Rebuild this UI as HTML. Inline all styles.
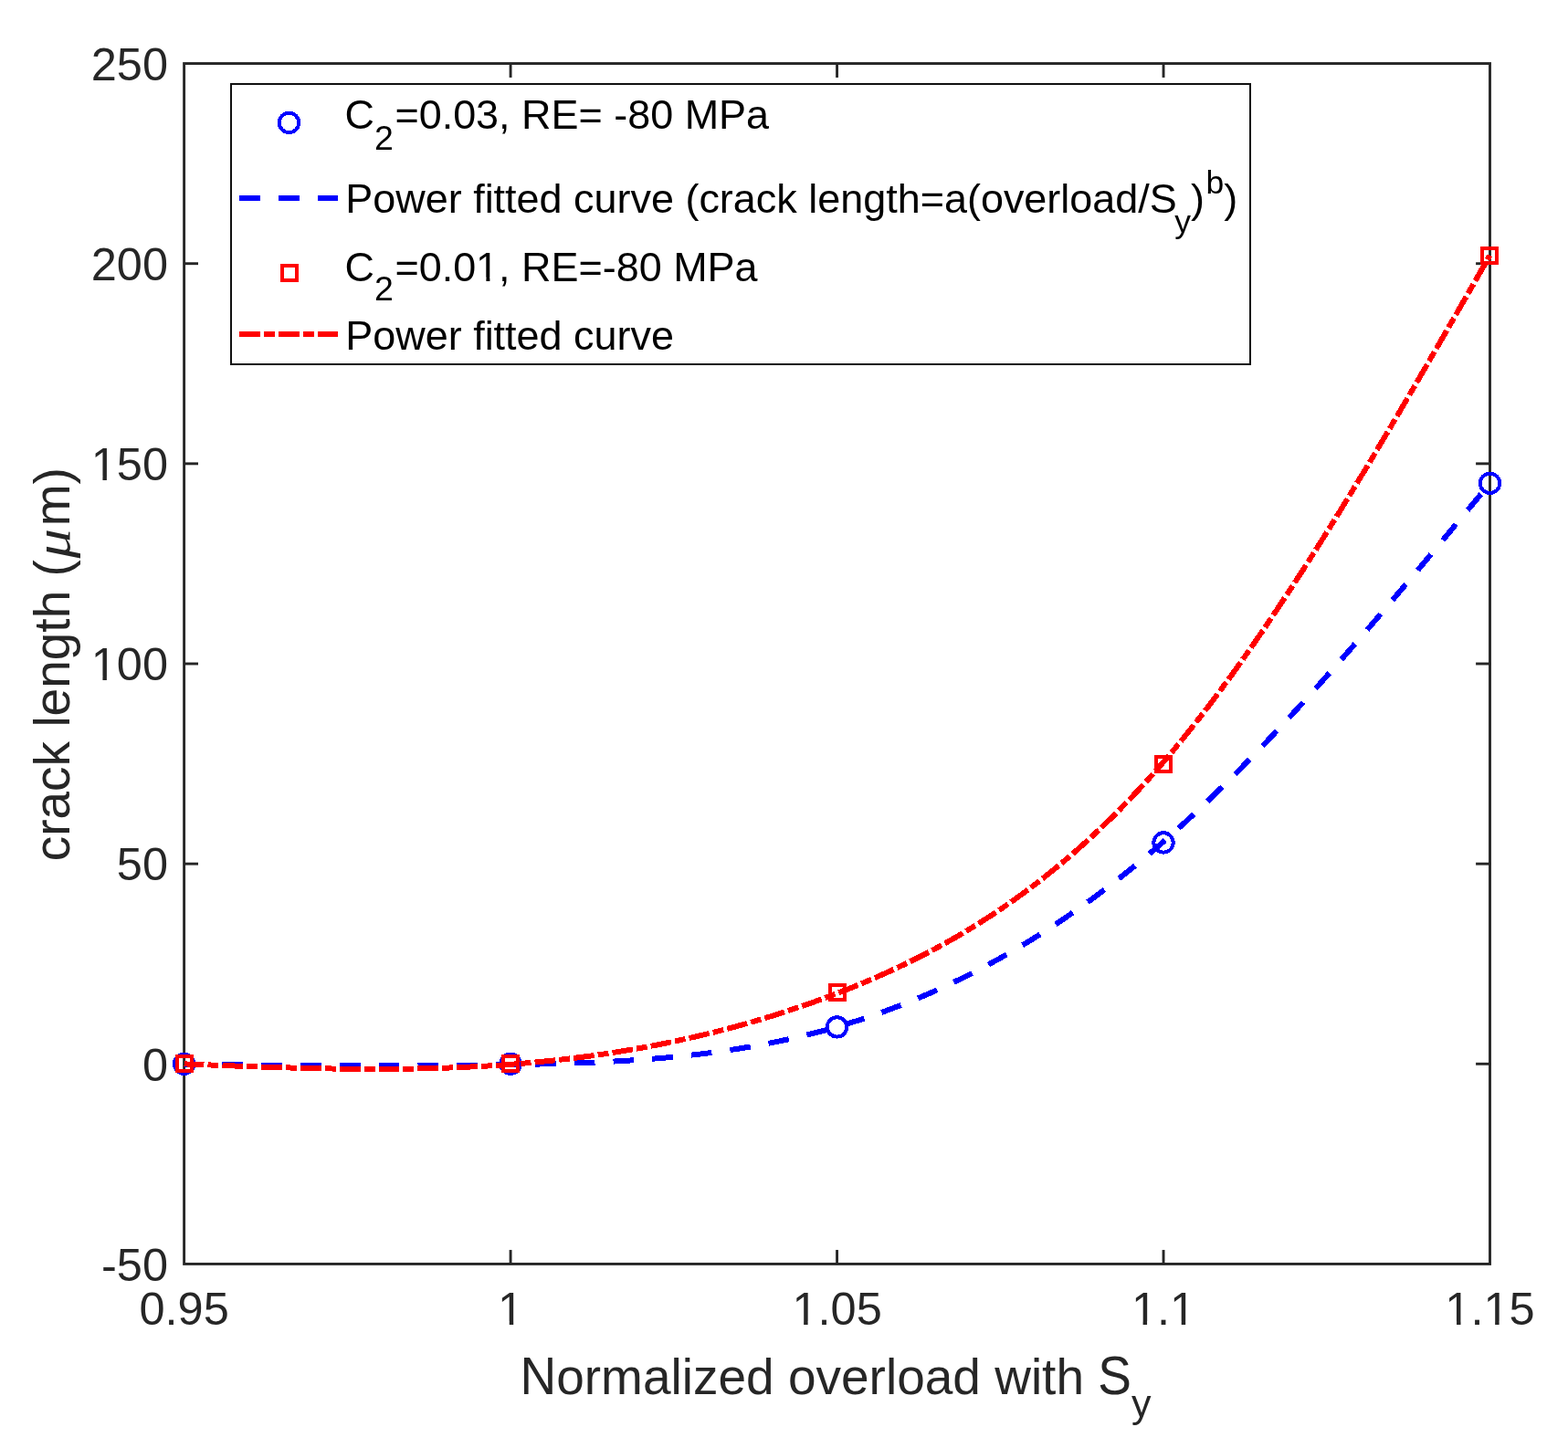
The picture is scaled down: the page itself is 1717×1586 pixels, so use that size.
<!DOCTYPE html>
<html><head><meta charset="utf-8"><title>crack length vs normalized overload</title>
<style>html,body{margin:0;padding:0;background:#ffffff;}svg{display:block}</style></head>
<body>
<svg width="1717" height="1586" viewBox="0 0 1717 1586">
<defs><clipPath id="nofoot" clipPathUnits="userSpaceOnUse"><path clip-rule="evenodd" d="M0,0H1717V1586H0Z M102.38,740.73H112.43V746.20H102.38Z M116.90,740.73H126.55V746.20H116.90Z M102.38,521.63H112.43V527.10H102.38Z M116.90,521.63H126.55V527.10H116.90Z M547.70,1446.93H557.75V1452.40H547.70Z M562.22,1446.93H571.87V1452.40H562.22Z M870.10,1446.93H880.15V1452.40H870.10Z M884.61,1446.93H894.27V1452.40H884.61Z M1241.55,1446.93H1251.60V1452.40H1241.55Z M1256.06,1446.93H1265.72V1452.40H1256.06Z M1283.65,1446.93H1293.71V1452.40H1283.65Z M1298.17,1446.93H1307.83V1452.40H1298.17Z M1585.00,1446.93H1595.05V1452.40H1585.00Z M1599.51,1446.93H1609.17V1452.40H1599.51Z M1627.11,1446.93H1637.16V1452.40H1627.11Z M1641.62,1446.93H1651.28V1452.40H1641.62Z M523.34,303.74H532.42V308.80H523.34Z M536.39,303.74H545.12V308.80H536.39Z"/></clipPath></defs>
<rect x="0" y="0" width="1717" height="1586" fill="#ffffff"/>
<g fill="none" stroke="#262626" stroke-width="2.9">
<rect x="201.6" y="69.55" width="1429.90" height="1314.90"/>
<line x1="201.6" y1="1165.30" x2="217.0" y2="1165.30"/><line x1="1631.5" y1="1165.30" x2="1616.1" y2="1165.30"/><line x1="201.6" y1="946.15" x2="217.0" y2="946.15"/><line x1="1631.5" y1="946.15" x2="1616.1" y2="946.15"/><line x1="201.6" y1="727.00" x2="217.0" y2="727.00"/><line x1="1631.5" y1="727.00" x2="1616.1" y2="727.00"/><line x1="201.6" y1="507.85" x2="217.0" y2="507.85"/><line x1="1631.5" y1="507.85" x2="1616.1" y2="507.85"/><line x1="201.6" y1="288.70" x2="217.0" y2="288.70"/><line x1="1631.5" y1="288.70" x2="1616.1" y2="288.70"/><line x1="559.08" y1="1384.45" x2="559.08" y2="1369.05"/><line x1="559.08" y1="69.55" x2="559.08" y2="84.95"/><line x1="916.55" y1="1384.45" x2="916.55" y2="1369.05"/><line x1="916.55" y1="69.55" x2="916.55" y2="84.95"/><line x1="1274.03" y1="1384.45" x2="1274.03" y2="1369.05"/><line x1="1274.03" y1="69.55" x2="1274.03" y2="84.95"/>
</g>
<g font-family="'Liberation Sans', Arial, Helvetica, sans-serif" font-size="50.5" fill="#262626" clip-path="url(#nofoot)">
<text x="184" y="1402.7" text-anchor="end">-50</text><text x="184" y="1183.5" text-anchor="end">0</text><text x="184" y="964.4" text-anchor="end">50</text><text x="184" y="745.2" text-anchor="end">100</text><text x="184" y="526.1" text-anchor="end">150</text><text x="184" y="306.9" text-anchor="end">200</text><text x="184" y="87.8" text-anchor="end">250</text>
<text x="201.6" y="1451.4" text-anchor="middle">0.95</text><text x="559.1" y="1451.4" text-anchor="middle">1</text><text x="916.6" y="1451.4" text-anchor="middle">1.05</text><text x="1274.0" y="1451.4" text-anchor="middle">1.1</text><text x="1631.5" y="1451.4" text-anchor="middle">1.15</text>
</g>
<g font-family="'Liberation Sans', Arial, Helvetica, sans-serif" font-size="55" fill="#262626">
<text x="569.5" y="1527" transform="translate(0,1527) scale(1,1.058) translate(0,-1527)">N</text><text x="609.22" y="1527">ormalized overload with </text><text x="1202.27" y="1527" transform="translate(0,1527) scale(1,1.075) translate(0,-1527)">S</text><text x="1238.95" y="1552" font-size="43">y</text>
<text transform="translate(75.9,943.3) rotate(-90)" x="0" y="0">crack length (</text>
<text transform="translate(75.9,611.6) rotate(-90) scale(1.17,1)" x="0" y="0" font-family="'Liberation Serif', serif" font-style="italic">μ</text>
<text transform="translate(75.9,576.25) rotate(-90)" x="0" y="0">m)</text>
</g>
<g shape-rendering="crispEdges">
<circle cx="201.60" cy="1165.30" r="10.7" fill="none" stroke="#0000ff" stroke-width="4"/><circle cx="559.08" cy="1165.30" r="10.7" fill="none" stroke="#0000ff" stroke-width="4"/><circle cx="916.55" cy="1124.89" r="10.7" fill="none" stroke="#0000ff" stroke-width="4"/><circle cx="1274.03" cy="922.92" r="10.7" fill="none" stroke="#0000ff" stroke-width="4"/><circle cx="1631.50" cy="529.33" r="10.7" fill="none" stroke="#0000ff" stroke-width="4"/>
<path d="M201.60,1165.82 L205.18,1165.85 L208.77,1165.89 L212.35,1165.92 L215.93,1165.95 L219.52,1165.99 L223.10,1166.02 L226.68,1166.05 L230.27,1166.08 L233.85,1166.11 L237.43,1166.15 L241.02,1166.18 L244.60,1166.21 L248.18,1166.24 L251.77,1166.27 L255.35,1166.30 L258.94,1166.34 L262.52,1166.37 L266.10,1166.40 L269.69,1166.43 L273.27,1166.46 L276.85,1166.48 L280.44,1166.51 L284.02,1166.54 L287.60,1166.57 L291.19,1166.60 L294.77,1166.62 L298.35,1166.65 L301.94,1166.68 L305.52,1166.70 L309.10,1166.73 L312.69,1166.75 L316.27,1166.78 L319.85,1166.80 L323.44,1166.82 L327.02,1166.84 L330.60,1166.86 L334.19,1166.89 L337.77,1166.91 L341.35,1166.93 L344.94,1166.94 L348.52,1166.96 L352.11,1166.98 L355.69,1167.00 L359.27,1167.01 L362.86,1167.03 L366.44,1167.04 L370.02,1167.05 L373.61,1167.07 L377.19,1167.08 L380.77,1167.09 L384.36,1167.10 L387.94,1167.11 L391.52,1167.12 L395.11,1167.12 L398.69,1167.13 L402.27,1167.13 L405.86,1167.14 L409.44,1167.14 L413.02,1167.14 L416.61,1167.14 L420.19,1167.14 L423.77,1167.14 L427.36,1167.14 L430.94,1167.13 L434.52,1167.13 L438.11,1167.12 L441.69,1167.12 L445.28,1167.11 L448.86,1167.10 L452.44,1167.09 L456.03,1167.08 L459.61,1167.06 L463.19,1167.05 L466.78,1167.03 L470.36,1167.01 L473.94,1167.00 L477.53,1166.97 L481.11,1166.95 L484.69,1166.93 L488.28,1166.91 L491.86,1166.88 L495.44,1166.85 L499.03,1166.82 L502.61,1166.79 L506.19,1166.76 L509.78,1166.73 L513.36,1166.69 L516.94,1166.66 L520.53,1166.62 L524.11,1166.58 L527.69,1166.54 L531.28,1166.49 L534.86,1166.45 L538.45,1166.40 L542.03,1166.36 L545.61,1166.31 L549.20,1166.25 L552.78,1166.20 L556.36,1166.15 L559.95,1166.09 L563.53,1166.03 L567.11,1165.97 L570.70,1165.91 L574.28,1165.84 L577.86,1165.77 L581.45,1165.70 L585.03,1165.63 L588.61,1165.55 L592.20,1165.47 L595.78,1165.39 L599.36,1165.30 L602.95,1165.22 L606.53,1165.12 L610.11,1165.02 L613.70,1164.92 L617.28,1164.82 L620.86,1164.71 L624.45,1164.59 L628.03,1164.47 L631.62,1164.35 L635.20,1164.22 L638.78,1164.08 L642.37,1163.94 L645.95,1163.80 L649.53,1163.65 L653.12,1163.49 L656.70,1163.32 L660.28,1163.16 L663.87,1162.98 L667.45,1162.80 L671.03,1162.61 L674.62,1162.41 L678.20,1162.21 L681.78,1162.00 L685.37,1161.78 L688.95,1161.56 L692.53,1161.32 L696.12,1161.08 L699.70,1160.84 L703.28,1160.58 L706.87,1160.31 L710.45,1160.04 L714.03,1159.76 L717.62,1159.47 L721.20,1159.17 L724.78,1158.86 L728.37,1158.54 L731.95,1158.22 L735.54,1157.88 L739.12,1157.53 L742.70,1157.18 L746.29,1156.81 L749.87,1156.43 L753.45,1156.04 L757.04,1155.65 L760.62,1155.24 L764.20,1154.82 L767.79,1154.39 L771.37,1153.95 L774.95,1153.49 L778.54,1153.03 L782.12,1152.55 L785.70,1152.07 L789.29,1151.57 L792.87,1151.05 L796.45,1150.53 L800.04,1149.99 L803.62,1149.44 L807.20,1148.88 L810.79,1148.31 L814.37,1147.72 L817.95,1147.12 L821.54,1146.50 L825.12,1145.87 L828.71,1145.23 L832.29,1144.58 L835.87,1143.91 L839.46,1143.22 L843.04,1142.52 L846.62,1141.81 L850.21,1141.08 L853.79,1140.34 L857.37,1139.58 L860.96,1138.81 L864.54,1138.02 L868.12,1137.21 L871.71,1136.39 L875.29,1135.56 L878.87,1134.70 L882.46,1133.84 L886.04,1132.95 L889.62,1132.05 L893.21,1131.13 L896.79,1130.20 L900.37,1129.25 L903.96,1128.28 L907.54,1127.29 L911.12,1126.29 L914.71,1125.27 L918.29,1124.23 L921.88,1123.17 L925.46,1122.10 L929.04,1121.01 L932.63,1119.90 L936.21,1118.77 L939.79,1117.62 L943.38,1116.46 L946.96,1115.27 L950.54,1114.07 L954.13,1112.85 L957.71,1111.61 L961.29,1110.35 L964.88,1109.08 L968.46,1107.78 L972.04,1106.47 L975.63,1105.14 L979.21,1103.79 L982.79,1102.42 L986.38,1101.03 L989.96,1099.62 L993.54,1098.19 L997.13,1096.74 L1000.71,1095.28 L1004.29,1093.79 L1007.88,1092.29 L1011.46,1090.76 L1015.05,1089.22 L1018.63,1087.66 L1022.21,1086.07 L1025.80,1084.47 L1029.38,1082.85 L1032.96,1081.20 L1036.55,1079.54 L1040.13,1077.86 L1043.71,1076.16 L1047.30,1074.44 L1050.88,1072.69 L1054.46,1070.93 L1058.05,1069.15 L1061.63,1067.34 L1065.21,1065.52 L1068.80,1063.68 L1072.38,1061.81 L1075.96,1059.93 L1079.55,1058.02 L1083.13,1056.09 L1086.71,1054.15 L1090.30,1052.18 L1093.88,1050.19 L1097.46,1048.18 L1101.05,1046.15 L1104.63,1044.09 L1108.22,1042.02 L1111.80,1039.93 L1115.38,1037.81 L1118.97,1035.67 L1122.55,1033.51 L1126.13,1031.33 L1129.72,1029.13 L1133.30,1026.91 L1136.88,1024.66 L1140.47,1022.40 L1144.05,1020.11 L1147.63,1017.80 L1151.22,1015.46 L1154.80,1013.11 L1158.38,1010.73 L1161.97,1008.34 L1165.55,1005.92 L1169.13,1003.47 L1172.72,1001.01 L1176.30,998.52 L1179.88,996.01 L1183.47,993.48 L1187.05,990.92 L1190.63,988.35 L1194.22,985.75 L1197.80,983.12 L1201.38,980.48 L1204.97,977.81 L1208.55,975.12 L1212.14,972.40 L1215.72,969.66 L1219.30,966.90 L1222.89,964.12 L1226.47,961.31 L1230.05,958.48 L1233.64,955.63 L1237.22,952.75 L1240.80,949.85 L1244.39,946.93 L1247.97,943.98 L1251.55,941.01 L1255.14,938.01 L1258.72,935.00 L1262.30,931.95 L1265.89,928.89 L1269.47,925.80 L1273.05,922.68 L1276.64,919.54 L1280.22,916.38 L1283.80,913.19 L1287.39,909.98 L1290.97,906.75 L1294.55,903.49 L1298.14,900.22 L1301.72,896.91 L1305.31,893.59 L1308.89,890.25 L1312.47,886.88 L1316.06,883.49 L1319.64,880.08 L1323.22,876.65 L1326.81,873.20 L1330.39,869.72 L1333.97,866.23 L1337.56,862.72 L1341.14,859.19 L1344.72,855.63 L1348.31,852.06 L1351.89,848.47 L1355.47,844.86 L1359.06,841.23 L1362.64,837.59 L1366.22,833.92 L1369.81,830.24 L1373.39,826.54 L1376.97,822.82 L1380.56,819.09 L1384.14,815.34 L1387.72,811.57 L1391.31,807.78 L1394.89,803.98 L1398.48,800.16 L1402.06,796.33 L1405.64,792.48 L1409.23,788.62 L1412.81,784.74 L1416.39,780.85 L1419.98,776.94 L1423.56,773.02 L1427.14,769.08 L1430.73,765.13 L1434.31,761.17 L1437.89,757.19 L1441.48,753.20 L1445.06,749.20 L1448.64,745.18 L1452.23,741.16 L1455.81,737.12 L1459.39,733.07 L1462.98,729.00 L1466.56,724.93 L1470.14,720.84 L1473.73,716.75 L1477.31,712.64 L1480.89,708.52 L1484.48,704.40 L1488.06,700.26 L1491.65,696.11 L1495.23,691.95 L1498.81,687.79 L1502.40,683.61 L1505.98,679.43 L1509.56,675.24 L1513.15,671.04 L1516.73,666.83 L1520.31,662.61 L1523.90,658.39 L1527.48,654.16 L1531.06,649.92 L1534.65,645.68 L1538.23,641.43 L1541.81,637.17 L1545.40,632.91 L1548.98,628.64 L1552.56,624.36 L1556.15,620.08 L1559.73,615.80 L1563.31,611.51 L1566.90,607.21 L1570.48,602.92 L1574.06,598.61 L1577.65,594.31 L1581.23,590.00 L1584.82,585.68 L1588.40,581.36 L1591.98,577.04 L1595.57,572.72 L1599.15,568.40 L1602.73,564.07 L1606.32,559.74 L1609.90,555.41 L1613.48,551.08 L1617.07,546.75 L1620.65,542.41 L1624.23,538.08 L1627.82,533.74 L1631.40,529.40" fill="none" stroke="#0000ff" stroke-width="6" stroke-dasharray="22.7 20.12" stroke-dashoffset="1"/>
<rect x="193.60" y="1157.30" width="16" height="16" fill="none" stroke="#ff0000" stroke-width="4"/><rect x="551.08" y="1157.30" width="16" height="16" fill="none" stroke="#ff0000" stroke-width="4"/><rect x="908.55" y="1078.84" width="16" height="16" fill="none" stroke="#ff0000" stroke-width="4"/><rect x="1266.03" y="829.01" width="16" height="16" fill="none" stroke="#ff0000" stroke-width="4"/><rect x="1623.10" y="271.93" width="16" height="16" fill="none" stroke="#ff0000" stroke-width="4"/>
<path d="M201.60,1165.35 L205.18,1165.50 L208.77,1165.64 L212.35,1165.78 L215.93,1165.92 L219.52,1166.06 L223.10,1166.20 L226.68,1166.35 L230.27,1166.49 L233.85,1166.63 L237.43,1166.76 L241.02,1166.90 L244.60,1167.04 L248.18,1167.17 L251.77,1167.31 L255.35,1167.44 L258.94,1167.58 L262.52,1167.71 L266.10,1167.84 L269.69,1167.97 L273.27,1168.09 L276.85,1168.22 L280.44,1168.34 L284.02,1168.46 L287.60,1168.58 L291.19,1168.70 L294.77,1168.81 L298.35,1168.93 L301.94,1169.04 L305.52,1169.15 L309.10,1169.25 L312.69,1169.36 L316.27,1169.46 L319.85,1169.56 L323.44,1169.65 L327.02,1169.75 L330.60,1169.84 L334.19,1169.92 L337.77,1170.01 L341.35,1170.09 L344.94,1170.17 L348.52,1170.24 L352.11,1170.31 L355.69,1170.38 L359.27,1170.44 L362.86,1170.50 L366.44,1170.56 L370.02,1170.61 L373.61,1170.66 L377.19,1170.70 L380.77,1170.74 L384.36,1170.78 L387.94,1170.81 L391.52,1170.84 L395.11,1170.86 L398.69,1170.88 L402.27,1170.90 L405.86,1170.91 L409.44,1170.91 L413.02,1170.91 L416.61,1170.91 L420.19,1170.90 L423.77,1170.88 L427.36,1170.86 L430.94,1170.84 L434.52,1170.80 L438.11,1170.77 L441.69,1170.73 L445.28,1170.68 L448.86,1170.63 L452.44,1170.57 L456.03,1170.50 L459.61,1170.43 L463.19,1170.36 L466.78,1170.27 L470.36,1170.19 L473.94,1170.09 L477.53,1169.99 L481.11,1169.88 L484.69,1169.77 L488.28,1169.65 L491.86,1169.52 L495.44,1169.39 L499.03,1169.25 L502.61,1169.10 L506.19,1168.94 L509.78,1168.78 L513.36,1168.61 L516.94,1168.44 L520.53,1168.25 L524.11,1168.06 L527.69,1167.86 L531.28,1167.66 L534.86,1167.44 L538.45,1167.22 L542.03,1166.99 L545.61,1166.75 L549.20,1166.51 L552.78,1166.26 L556.36,1165.99 L559.95,1165.72 L563.53,1165.45 L567.11,1165.16 L570.70,1164.86 L574.28,1164.56 L577.86,1164.25 L581.45,1163.93 L585.03,1163.60 L588.61,1163.26 L592.20,1162.91 L595.78,1162.56 L599.36,1162.20 L602.95,1161.82 L606.53,1161.44 L610.11,1161.05 L613.70,1160.65 L617.28,1160.24 L620.86,1159.82 L624.45,1159.39 L628.03,1158.95 L631.62,1158.51 L635.20,1158.05 L638.78,1157.58 L642.37,1157.11 L645.95,1156.62 L649.53,1156.13 L653.12,1155.63 L656.70,1155.11 L660.28,1154.59 L663.87,1154.05 L667.45,1153.51 L671.03,1152.96 L674.62,1152.39 L678.20,1151.82 L681.78,1151.23 L685.37,1150.64 L688.95,1150.03 L692.53,1149.42 L696.12,1148.79 L699.70,1148.16 L703.28,1147.51 L706.87,1146.86 L710.45,1146.19 L714.03,1145.51 L717.62,1144.82 L721.20,1144.12 L724.78,1143.41 L728.37,1142.69 L731.95,1141.96 L735.54,1141.21 L739.12,1140.46 L742.70,1139.69 L746.29,1138.92 L749.87,1138.13 L753.45,1137.33 L757.04,1136.52 L760.62,1135.70 L764.20,1134.86 L767.79,1134.02 L771.37,1133.16 L774.95,1132.29 L778.54,1131.41 L782.12,1130.52 L785.70,1129.62 L789.29,1128.70 L792.87,1127.77 L796.45,1126.83 L800.04,1125.88 L803.62,1124.92 L807.20,1123.94 L810.79,1122.96 L814.37,1121.96 L817.95,1120.94 L821.54,1119.92 L825.12,1118.88 L828.71,1117.83 L832.29,1116.77 L835.87,1115.70 L839.46,1114.61 L843.04,1113.51 L846.62,1112.40 L850.21,1111.27 L853.79,1110.13 L857.37,1108.98 L860.96,1107.82 L864.54,1106.64 L868.12,1105.45 L871.71,1104.24 L875.29,1103.03 L878.87,1101.80 L882.46,1100.55 L886.04,1099.30 L889.62,1098.03 L893.21,1096.74 L896.79,1095.45 L900.37,1094.14 L903.96,1092.81 L907.54,1091.47 L911.12,1090.12 L914.71,1088.76 L918.29,1087.38 L921.88,1085.98 L925.46,1084.57 L929.04,1083.15 L932.63,1081.71 L936.21,1080.26 L939.79,1078.79 L943.38,1077.31 L946.96,1075.81 L950.54,1074.29 L954.13,1072.76 L957.71,1071.21 L961.29,1069.64 L964.88,1068.06 L968.46,1066.46 L972.04,1064.84 L975.63,1063.20 L979.21,1061.54 L982.79,1059.87 L986.38,1058.17 L989.96,1056.46 L993.54,1054.73 L997.13,1052.97 L1000.71,1051.20 L1004.29,1049.40 L1007.88,1047.59 L1011.46,1045.75 L1015.05,1043.89 L1018.63,1042.02 L1022.21,1040.11 L1025.80,1038.19 L1029.38,1036.24 L1032.96,1034.28 L1036.55,1032.28 L1040.13,1030.27 L1043.71,1028.23 L1047.30,1026.17 L1050.88,1024.08 L1054.46,1021.97 L1058.05,1019.83 L1061.63,1017.67 L1065.21,1015.49 L1068.80,1013.27 L1072.38,1011.04 L1075.96,1008.77 L1079.55,1006.48 L1083.13,1004.17 L1086.71,1001.82 L1090.30,999.45 L1093.88,997.05 L1097.46,994.62 L1101.05,992.17 L1104.63,989.69 L1108.22,987.17 L1111.80,984.63 L1115.38,982.06 L1118.97,979.46 L1122.55,976.83 L1126.13,974.17 L1129.72,971.48 L1133.30,968.76 L1136.88,966.01 L1140.47,963.23 L1144.05,960.41 L1147.63,957.57 L1151.22,954.69 L1154.80,951.78 L1158.38,948.84 L1161.97,945.86 L1165.55,942.85 L1169.13,939.81 L1172.72,936.73 L1176.30,933.62 L1179.88,930.48 L1183.47,927.30 L1187.05,924.08 L1190.63,920.83 L1194.22,917.55 L1197.80,914.23 L1201.38,910.87 L1204.97,907.48 L1208.55,904.05 L1212.14,900.58 L1215.72,897.08 L1219.30,893.54 L1222.89,889.96 L1226.47,886.34 L1230.05,882.69 L1233.64,878.99 L1237.22,875.26 L1240.80,871.49 L1244.39,867.68 L1247.97,863.83 L1251.55,859.94 L1255.14,856.01 L1258.72,852.04 L1262.30,848.03 L1265.89,843.97 L1269.47,839.88 L1273.05,835.74 L1276.64,831.57 L1280.22,827.35 L1283.80,823.09 L1287.39,818.78 L1290.97,814.44 L1294.55,810.06 L1298.14,805.64 L1301.72,801.18 L1305.31,796.68 L1308.89,792.14 L1312.47,787.56 L1316.06,782.95 L1319.64,778.30 L1323.22,773.61 L1326.81,768.89 L1330.39,764.13 L1333.97,759.34 L1337.56,754.51 L1341.14,749.65 L1344.72,744.75 L1348.31,739.82 L1351.89,734.85 L1355.47,729.86 L1359.06,724.83 L1362.64,719.76 L1366.22,714.67 L1369.81,709.55 L1373.39,704.39 L1376.97,699.21 L1380.56,693.99 L1384.14,688.74 L1387.72,683.47 L1391.31,678.17 L1394.89,672.84 L1398.48,667.48 L1402.06,662.09 L1405.64,656.68 L1409.23,651.24 L1412.81,645.78 L1416.39,640.28 L1419.98,634.77 L1423.56,629.23 L1427.14,623.66 L1430.73,618.07 L1434.31,612.46 L1437.89,606.82 L1441.48,601.16 L1445.06,595.48 L1448.64,589.78 L1452.23,584.05 L1455.81,578.31 L1459.39,572.54 L1462.98,566.75 L1466.56,560.95 L1470.14,555.12 L1473.73,549.28 L1477.31,543.41 L1480.89,537.53 L1484.48,531.63 L1488.06,525.72 L1491.65,519.78 L1495.23,513.83 L1498.81,507.87 L1502.40,501.89 L1505.98,495.89 L1509.56,489.88 L1513.15,483.85 L1516.73,477.81 L1520.31,471.76 L1523.90,465.70 L1527.48,459.62 L1531.06,453.53 L1534.65,447.42 L1538.23,441.31 L1541.81,435.19 L1545.40,429.05 L1548.98,422.90 L1552.56,416.75 L1556.15,410.59 L1559.73,404.41 L1563.31,398.23 L1566.90,392.04 L1570.48,385.84 L1574.06,379.64 L1577.65,373.43 L1581.23,367.21 L1584.82,360.99 L1588.40,354.76 L1591.98,348.53 L1595.57,342.29 L1599.15,336.04 L1602.73,329.80 L1606.32,323.55 L1609.90,317.30 L1613.48,311.04 L1617.07,304.78 L1620.65,298.52 L1624.23,292.26 L1627.82,286.00 L1631.40,279.74" fill="none" stroke="#ff0000" stroke-width="6" stroke-dasharray="22.75 4.09 11.87 4.09" stroke-dashoffset="0.9"/>
</g>
<!-- legend -->
<rect x="253" y="92" width="1116" height="307" fill="#ffffff" stroke="#111111" stroke-width="2"/>
<g shape-rendering="crispEdges">
<circle cx="316.5" cy="134.4" r="10.7" fill="none" stroke="#0000ff" stroke-width="4"/>
<line x1="262" y1="217" x2="370" y2="217" stroke="#0000ff" stroke-width="6" stroke-dasharray="22.8 20.2"/>
<rect x="309" y="291" width="16" height="16" fill="none" stroke="#ff0000" stroke-width="4"/>
<line x1="262" y1="366" x2="370" y2="366" stroke="#ff0000" stroke-width="6" stroke-dasharray="22.8 4.1 11.9 4.1"/>
</g>
<g font-family="'Liberation Sans', Arial, Helvetica, sans-serif" font-size="44.95" fill="#000000" clip-path="url(#nofoot)">
<text x="377.6" y="141.3">C<tspan font-size="37.5" dy="22.4">2</tspan><tspan dy="-22.4" dx="1.5">=0.03, RE= -80 MPa</tspan></text>
<text x="378.3" y="233.1">Power fitted curve (crack length=a(overload/S<tspan font-size="35.5" dy="21.7" dx="-2.5">y</tspan><tspan dy="-21.7">)</tspan><tspan font-size="35.5" dy="-21.3" dx="1.5">b</tspan><tspan dy="21.3">)</tspan></text>
<text x="377.6" y="307.8">C<tspan font-size="37.5" dy="21.5">2</tspan><tspan dy="-21.5" dx="1.5">=0.01, RE=-80 MPa</tspan></text>
<text x="378.3" y="383.1">Power fitted curve</text>
</g>
</svg>
</body></html>
